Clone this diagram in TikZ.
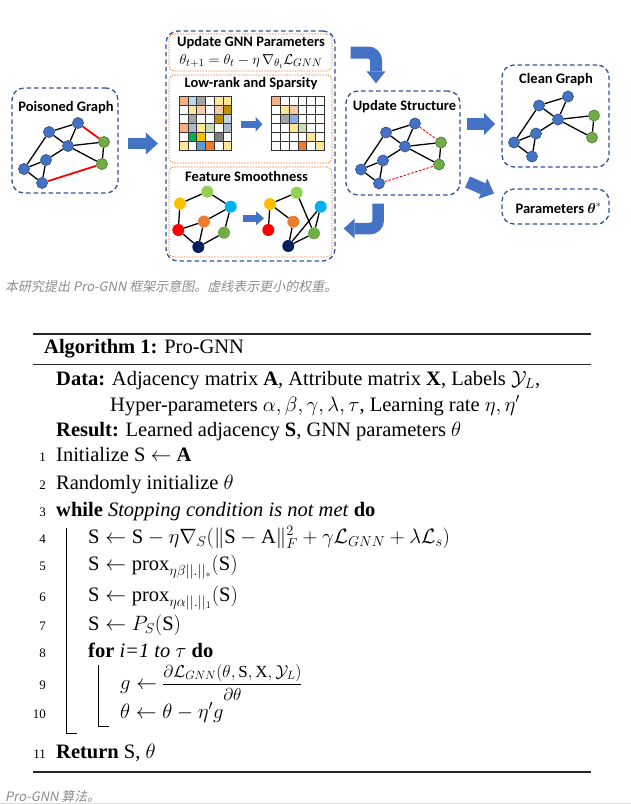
\documentclass[tikz,border=0pt]{standalone}
\usepackage{amsmath,amssymb}
\usepackage{fontspec}
\setmainfont{Liberation Serif}
\newfontfamily\diafont{Carlito}
\newfontfamily\capfont{Noto Sans CJK SC}[FakeSlant=0.2]
\usetikzlibrary{arrows.meta}

\definecolor{frameblue}{HTML}{2F5597}
\definecolor{frameorange}{HTML}{ED7D31}
\definecolor{nodeblue}{HTML}{4472C4}
\definecolor{nodeline}{HTML}{2F528F}
\definecolor{leafgreen}{HTML}{70AD47}
\definecolor{leafline}{HTML}{507E32}
\definecolor{attackred}{HTML}{FF0000}
\definecolor{arrowblue}{HTML}{4472C4}
\definecolor{fsyellow}{HTML}{FFC000}
\definecolor{fslgreen}{HTML}{92D050}
\definecolor{fscyan}{HTML}{00B0F0}
\definecolor{fsorange}{HTML}{ED7D31}
\definecolor{fsred}{HTML}{FF0000}
\definecolor{fsgreen}{HTML}{70AD47}
\definecolor{fsnavy}{HTML}{002060}
\definecolor{salm}{HTML}{F4B183}
\definecolor{lblu}{HTML}{BDD7EE}
\definecolor{mgray}{HTML}{A5A5A5}
\definecolor{lyel}{HTML}{FFE699}
\definecolor{lsalm}{HTML}{F8CBAD}
\definecolor{dgold}{HTML}{BF9000}
\definecolor{gblu}{HTML}{ADB9CA}
\definecolor{lgrn}{HTML}{C5E0B4}
\definecolor{vgrn}{HTML}{00B050}
\definecolor{gold}{HTML}{FFC000}
\definecolor{dgray}{HTML}{7F7F7F}
\definecolor{mblu}{HTML}{5B9BD5}
\definecolor{corange}{HTML}{ED7D31}
\definecolor{pblu}{HTML}{8FAADC}
\definecolor{capgray}{HTML}{8C8C8C}

% one small graph: #1 = name prefix, #2 = style of the two attacked edges
\newcommand{\structgraph}[2]{%
  \node[gnode] (#1a) at (49,132) {};
  \node[gnode] (#1b) at (78,123) {};
  \node[gnode] (#1c) at (68,146) {};
  \node[gnode] (#1d) at (46,160) {};
  \node[gnode] (#1e) at (24,169) {};
  \node[gnode] (#1f) at (42,183) {};
  \node[lnode] (#1g) at (104,142) {};
  \node[lnode] (#1h) at (102,164) {};
  \draw[edge] (#1a) -- (#1b) (#1a) -- (#1c) (#1b) -- (#1c) (#1c) -- (#1g)
    (#1c) -- (#1h) (#1c) -- (#1d) (#1a) -- (#1e) (#1d) -- (#1e)
    (#1e) -- (#1f) (#1d) -- (#1f) (#1g) -- (#1h);
  \draw[#2] (#1b) -- (#1g) (#1f) -- (#1h);
}

\begin{document}
\begin{tikzpicture}[x=1pt, y=-1pt,
  outer/.style={draw=frameblue, line width=1.3pt, dash pattern=on 4.5pt off 3pt, rounded corners=12pt, inner sep=0},
  inner/.style={draw=frameorange, line width=0.7pt, dash pattern=on 1.6pt off 1.2pt, rounded corners=5pt, inner sep=0},
  title/.style={font=\diafont\bfseries\fontsize{14.5}{16}\selectfont, inner sep=0, anchor=base},
  gnode/.style={circle, fill=nodeblue, draw=nodeline, line width=0.7pt, minimum size=11pt, inner sep=0},
  lnode/.style={gnode, fill=leafgreen, draw=leafline},
  fsnode/.style={circle, minimum size=12pt, inner sep=0},
  edge/.style={draw=black, line width=1.3pt},
  attack/.style={draw=attackred, line width=1.8pt},
  weak/.style={draw=attackred, line width=0.9pt, dash pattern=on 2.5pt off 1.5pt},
  cell/.style={draw=black!80, line width=0.5pt},
  mat/.style={minimum width=52.2pt, minimum height=54.6pt, inner sep=0},
  barrow/.style n args={3}{draw=arrowblue, line width=#1, -{Triangle[width=#2, length=#3, line width=0pt]}},
  algline/.style={anchor=base west, inner sep=0, font=\fontsize{20.5}{24}\selectfont},
  lnum/.style={anchor=base east, inner sep=0, font=\fontsize{13}{15}\selectfont},
  caption/.style={anchor=west, inner sep=0, text=capgray, font=\capfont\fontsize{13}{15}\selectfont}
]
  \useasboundingbox (0,0) rectangle (631,804);

  % Boxes
  \node[outer, minimum width=106pt, minimum height=105pt] (poison) at (65,140.5) {};
  \node[outer, minimum width=169pt, minimum height=230pt] (mid) at (250.5,146) {};
  \node[inner, minimum width=163pt, minimum height=37pt] (gnnbox) at (250.5,52.5) {};
  \node[inner, minimum width=163pt, minimum height=88pt] (lowrank) at (250.5,119) {};
  \node[inner, minimum width=163pt, minimum height=90pt] (feat) at (250.5,212) {};
  \node[outer, minimum width=114pt, minimum height=104pt] (ustruct) at (403,143) {};
  \node[outer, minimum width=107pt, minimum height=102pt] (clean) at (555.5,116) {};
  \node[outer, minimum width=107pt, minimum height=35pt] (param) at (555.5,206.5) {};

  % Titles
  \node[title] (tpoison) at (66,111.5) {Poisoned Graph};
  \node[title] (tgnn) at (251,46.8) {Update GNN Parameters};
  \node[inner sep=0, anchor=base, font=\fontsize{15}{17}\selectfont] (gnnform) at (251,64)
    {$\theta_{t+1}=\theta_t-\eta\,\nabla_{\theta_t}\mathcal{L}_{GNN}$};
  \node[title] (tlowrank) at (251,87.7) {Low-rank and Sparsity};
  \node[title] (tfeat) at (246.5,181.7) {Feature Smoothness};
  \node[title] (tstruct) at (404.5,110.7) {Update Structure};
  \node[title] (tclean) at (556,83.3) {Clean Graph};
  \node[title] (tparam) at (558.5,213.3) {Parameters $\boldsymbol{\theta}^{*}$};

  % Graphs
  \structgraph{p}{attack}
  \begin{scope}[shift={(337,0.5)}]
    \structgraph{u}{weak}
  \end{scope}
  \begin{scope}[shift={(490,-26.5)}]
    \structgraph{c}{draw=none}
  \end{scope}

  % Matrices
  \node[mat] (matL) at (205.4,123.3) {};
  \node[mat] (matR) at (297.8,123.3) {};
  \foreach \row [count=\r from 0] in {{salm,lblu,mgray,white,lyel,lyel},{white,lyel,lsalm,white,lsalm,dgold},{white,mgray,white,white,dgold,lblu},{salm,gblu,lyel,lgrn,white,gblu},{white,vgrn,gold,white,dgray,white},{lyel,white,mblu,corange,white,lyel}}
    \foreach \c [count=\k from 0] in \row
      \filldraw[cell, fill=\c] (179.3+8.7*\k, 96+9.1*\r) rectangle ++(8.7,9.1);
  \foreach \row [count=\r from 0] in {{salm,white,white,white,white,white},{white,lyel,lsalm,white,white,white},{white,mgray,pblu,white,white,white},{white,white,lyel,lgrn,white,white},{white,white,white,white,lyel,white},{white,white,white,corange,white,lyel}}
    \foreach \c [count=\k from 0] in \row
      \filldraw[cell, fill=\c] (271.7+8.7*\k, 96+9.1*\r) rectangle ++(8.7,9.1);

  % Feature smoothness
  \node[fsnode, fill=fsyellow] (yA) at (180,203.5) {};
  \node[fsnode, fill=fslgreen] (lA) at (207.3,191.7) {};
  \node[fsnode, fill=fscyan] (cA) at (230.7,206.7) {};
  \node[fsnode, fill=fsorange] (oA) at (204,221.5) {};
  \node[fsnode, fill=fsred] (rA) at (178.3,230) {};
  \node[fsnode, fill=fsgreen] (gA) at (224,232.7) {};
  \node[fsnode, fill=fsnavy] (nA) at (198.3,247) {};
  \draw[edge] (yA) -- (lA) (lA) -- (cA) (cA) -- (oA) (cA) -- (gA) (yA) -- (rA)
    (rA) -- (oA) (rA) -- (nA) (oA) -- (nA) (gA) -- (nA);
  \node[fsnode, fill=fsyellow] (yB) at (270,204) {};
  \node[fsnode, fill=fslgreen] (lB) at (296.7,192.7) {};
  \node[fsnode, fill=fscyan] (cB) at (320.7,206.7) {};
  \node[fsnode, fill=fsorange] (oB) at (293.3,221.7) {};
  \node[fsnode, fill=fsred] (rB) at (268.3,230) {};
  \node[fsnode, fill=fsgreen] (gB) at (314,233.3) {};
  \node[fsnode, fill=fsnavy] (nB) at (288.3,246) {};
  \draw[edge] (yB) -- (lB) (yB) -- (rB) (yB) -- (oB) (lB) -- (gB) (cB) -- (nB)
    (cB) -- (gB) (gB) -- (nB) (oB) -- (nB);

  % Arrows
  \coordinate (fsstart) at (242.7,218.3);
  \coordinate (fsend) at (264,218.3);
  \coordinate (paramtip) at (494,193.5);
  \draw[barrow={11pt}{22pt}{12pt}, shorten <=9.5pt, shorten >=7.5pt] (poison.east |- 0,143.5) -- (mid.west |- 0,143.5);
  \draw[barrow={7pt}{15pt}{7pt}, shorten <=9.5pt, shorten >=9pt] (matL.east |- 0,124.2) -- (matR.west |- 0,124.2);
  \draw[barrow={7pt}{14pt}{8pt}] (fsstart) -- (fsend);
  \draw[barrow={12pt}{19pt}{12pt}, rounded corners=8pt, shorten <=15pt, shorten >=7pt] (mid.east |- 0,52.5) -| (ustruct.north -| 376,0);
  \draw[barrow={11.5pt}{20pt}{11pt}, rounded corners=8pt, shorten <=8pt, shorten >=8pt] (ustruct.south -| 378.2,0) |- (mid.east |- 0,228.5);
  \draw[barrow={12pt}{22pt}{11pt}, shorten <=6pt, shorten >=6.3pt] (ustruct.east |- 0,124) -- (clean.west |- 0,124);
  \draw[barrow={12pt}{22pt}{12pt}, shorten <=7.5pt] (ustruct.east |- 0,179) -- (paramtip);

  % Captions
  \node[caption] (cap1) at (5,287) {本研究提出 Pro-GNN 框架示意图。虚线表示更小的权重。};
  \node[caption] (cap2) at (5,797) {Pro-GNN 算法。};
  \draw[black!15, line width=0.8pt] (0,803.5) -- (631,803.5);

  % Algorithm
  \draw[line width=1.6pt, black!85] (33,334) -- (591,334);
  \draw[line width=0.9pt, black!85] (33,364) -- (591,364);
  \draw[line width=1.6pt, black!85] (33,772) -- (591,772);
  \node[algline] (alg) at (44,353.3) {\textbf{Algorithm 1:} Pro-GNN};
  \node[algline] (data) at (56,385) {\textbf{Data:} Adjacency matrix $\mathbf{A}$, Attribute matrix $\mathbf{X}$, Labels $\mathcal{Y}_L$,};
  \node[algline] (hyper) at (110,411) {Hyper-parameters $\alpha,\beta,\gamma,\lambda,\tau$, Learning rate $\eta,\eta'$};
  \node[algline] (res) at (56,436) {\textbf{Result:} Learned adjacency $\mathbf{S}$, GNN parameters $\theta$};
  \node[algline] (l1) at (56,461.7) {Initialize S $\leftarrow$ $\mathbf{A}$};
  \node[algline] (l2) at (56,489.3) {Randomly initialize $\theta$};
  \node[algline] (l3) at (56,516.7) {\textbf{while} \textit{Stopping condition is not met} \textbf{do}};
  \node[algline] (l4) at (88,543.3) {$\mathrm{S}\leftarrow\mathrm{S}-\eta\nabla_{S}(\|\mathrm{S}-\mathrm{A}\|_F^2+\gamma\mathcal{L}_{GNN}+\lambda\mathcal{L}_s)$};
  \node[algline] (l5) at (88,570.7) {$\mathrm{S}\leftarrow\mathrm{prox}_{\eta\beta||.||_*}(\mathrm{S})$};
  \node[algline] (l6) at (88,601.7) {$\mathrm{S}\leftarrow\mathrm{prox}_{\eta\alpha||.||_1}(\mathrm{S})$};
  \node[algline] (l7) at (88,630.7) {$\mathrm{S}\leftarrow P_{S}(\mathrm{S})$};
  \node[algline] (l8) at (88,657.3) {\textbf{for} \textit{i=1 to $\tau$} \textbf{do}};
  \node[algline] (l9) at (120,689) {$g\leftarrow$ {\fontsize{17}{19}\selectfont$\dfrac{\partial\mathcal{L}_{GNN}(\theta,\mathrm{S},\mathrm{X},\mathcal{Y}_L)}{\partial\theta}$}};
  \node[algline] (l10) at (120,718.3) {$\theta\leftarrow\theta-\eta'g$};
  \node[algline] (l11) at (56,758.3) {\textbf{Return} S, $\theta$};
  \foreach \i in {1,...,11}
    \node[lnum] (num\i) at (l\i.base -| 46,0) {\i};
  \draw[line width=0.8pt] (66,528) |- (77,733);
  \draw[line width=0.8pt] (98,665) |- (109,726);
\end{tikzpicture}
\end{document}
